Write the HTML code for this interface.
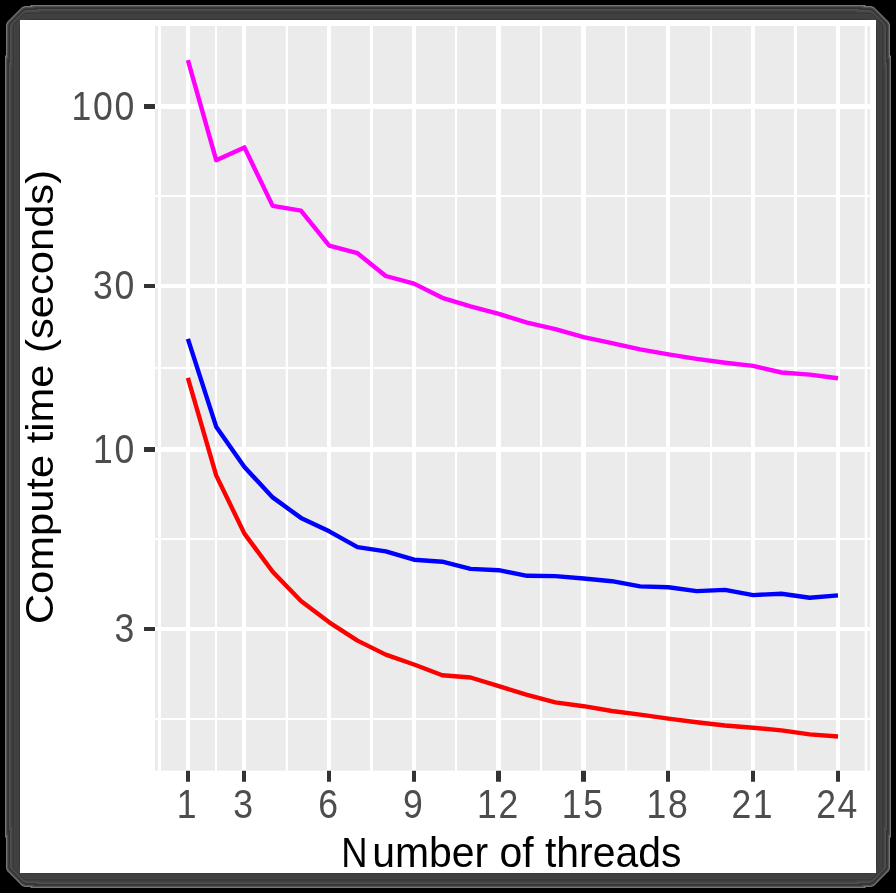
<!DOCTYPE html>
<html><head><meta charset="utf-8"><title>Compute time vs threads</title>
<style>html,body{margin:0;padding:0;background:#000;}svg{display:block;will-change:transform;}text{font-family:"Liberation Sans",sans-serif;}</style></head><body>
<svg width="896" height="893" viewBox="0 0 896 893">
<rect width="896" height="893" fill="#000"/>
<path d="M5.00,56.00L6.00,55.00L6.00,24.50L7.30,21.80L21.80,7.30L24.50,6.00L30.00,6.00L31.00,5.00L865.00,5.00L866.00,6.00L871.50,6.00L874.20,7.30L888.70,21.80L890.00,24.50L890.00,55.00L891.00,56.00L891.00,837.00L890.00,838.00L890.00,868.50L888.70,871.20L874.20,885.70L871.50,887.00L866.00,887.00L865.00,888.00L31.00,888.00L30.00,887.00L24.50,887.00L21.80,885.70L7.30,871.20L6.00,868.50L6.00,838.00L5.00,837.00Z" fill="#777777"/>
<path d="M6.00,57.80L7.00,56.80L7.00,24.91L8.30,22.21L22.21,8.30L24.91,7.00L31.60,7.00L32.60,6.00L863.40,6.00L864.40,7.00L871.09,7.00L873.79,8.30L887.70,22.21L889.00,24.91L889.00,56.80L890.00,57.80L890.00,835.20L889.00,836.20L889.00,868.09L887.70,870.79L873.79,884.70L871.09,886.00L864.40,886.00L863.40,887.00L32.60,887.00L31.60,886.00L24.91,886.00L22.21,884.70L8.30,870.79L7.00,868.09L7.00,836.20L6.00,835.20Z" fill="#505050"/>
<path d="M7.00,59.60L8.00,58.60L8.00,25.33L9.30,22.63L22.63,9.30L25.33,8.00L33.20,8.00L34.20,7.00L861.80,7.00L862.80,8.00L870.67,8.00L873.37,9.30L886.70,22.63L888.00,25.33L888.00,58.60L889.00,59.60L889.00,833.40L888.00,834.40L888.00,867.67L886.70,870.37L873.37,883.70L870.67,885.00L862.80,885.00L861.80,886.00L34.20,886.00L33.20,885.00L25.33,885.00L22.63,883.70L9.30,870.37L8.00,867.67L8.00,834.40L7.00,833.40Z" fill="#3b3b3b"/>
<path d="M8.00,61.40L9.00,60.40L9.00,25.74L10.30,23.04L23.04,10.30L25.74,9.00L34.80,9.00L35.80,8.00L860.20,8.00L861.20,9.00L870.26,9.00L872.96,10.30L885.70,23.04L887.00,25.74L887.00,60.40L888.00,61.40L888.00,831.60L887.00,832.60L887.00,867.26L885.70,869.96L872.96,882.70L870.26,884.00L861.20,884.00L860.20,885.00L35.80,885.00L34.80,884.00L25.74,884.00L23.04,882.70L10.30,869.96L9.00,867.26L9.00,832.60L8.00,831.60Z" fill="#333333"/>
<path d="M9.00,63.20L10.00,62.20L10.00,26.16L11.30,23.46L23.46,11.30L26.16,10.00L36.40,10.00L37.40,9.00L858.60,9.00L859.60,10.00L869.84,10.00L872.54,11.30L884.70,23.46L886.00,26.16L886.00,62.20L887.00,63.20L887.00,829.80L886.00,830.80L886.00,866.84L884.70,869.54L872.54,881.70L869.84,883.00L859.60,883.00L858.60,884.00L37.40,884.00L36.40,883.00L26.16,883.00L23.46,881.70L11.30,869.54L10.00,866.84L10.00,830.80L9.00,829.80Z" fill="#505050"/>
<path d="M10.00,65.00L11.00,64.00L11.00,26.57L12.30,23.87L23.87,12.30L26.57,11.00L38.00,11.00L39.00,10.00L857.00,10.00L858.00,11.00L869.43,11.00L872.13,12.30L883.70,23.87L885.00,26.57L885.00,64.00L886.00,65.00L886.00,828.00L885.00,829.00L885.00,866.43L883.70,869.13L872.13,880.70L869.43,882.00L858.00,882.00L857.00,883.00L39.00,883.00L38.00,882.00L26.57,882.00L23.87,880.70L12.30,869.13L11.00,866.43L11.00,829.00L10.00,828.00Z" fill="#484848"/>
<path d="M11.00,66.80L12.00,65.80L12.00,26.98L13.30,24.28L24.28,13.30L26.98,12.00L39.60,12.00L40.60,11.00L855.40,11.00L856.40,12.00L869.02,12.00L871.72,13.30L882.70,24.28L884.00,26.98L884.00,65.80L885.00,66.80L885.00,826.20L884.00,827.20L884.00,866.02L882.70,868.72L871.72,879.70L869.02,881.00L856.40,881.00L855.40,882.00L40.60,882.00L39.60,881.00L26.98,881.00L24.28,879.70L13.30,868.72L12.00,866.02L12.00,827.20L11.00,826.20Z" fill="#404040"/>
<path d="M12.00,68.60L13.00,67.60L13.00,27.40L14.30,24.70L24.70,14.30L27.40,13.00L41.20,13.00L42.20,12.00L853.80,12.00L854.80,13.00L868.60,13.00L871.30,14.30L881.70,24.70L883.00,27.40L883.00,67.60L884.00,68.60L884.00,824.40L883.00,825.40L883.00,865.60L881.70,868.30L871.30,878.70L868.60,880.00L854.80,880.00L853.80,881.00L42.20,881.00L41.20,880.00L27.40,880.00L24.70,878.70L14.30,868.30L13.00,865.60L13.00,825.40L12.00,824.40Z" fill="#3c3c3c"/>
<path d="M13.00,24.31L24.31,13.00L871.69,13.00L883.00,24.31L883.00,868.69L871.69,880.00L24.31,880.00L13.00,868.69Z" fill="#383838"/>
<path d="M14.00,24.73L24.73,14.00L871.27,14.00L882.00,24.73L882.00,868.27L871.27,879.00L24.73,879.00L14.00,868.27Z" fill="#424242"/>
<path d="M15.00,25.14L25.14,15.00L870.86,15.00L881.00,25.14L881.00,867.86L870.86,878.00L25.14,878.00L15.00,867.86Z" fill="#404040"/>
<path d="M16.00,25.55L25.55,16.00L870.45,16.00L880.00,25.55L880.00,867.45L870.45,877.00L25.55,877.00L16.00,867.45Z" fill="#404040"/>
<path d="M17.00,25.97L25.97,17.00L870.03,17.00L879.00,25.97L879.00,867.03L870.03,876.00L25.97,876.00L17.00,867.03Z" fill="#404040"/>
<path d="M18.00,26.38L26.38,18.00L869.62,18.00L878.00,26.38L878.00,866.62L869.62,875.00L26.38,875.00L18.00,866.62Z" fill="#404040"/>
<path d="M19.00,26.80L26.80,19.00L869.20,19.00L877.00,26.80L877.00,866.20L869.20,874.00L26.80,874.00L19.00,866.20Z" fill="#363636"/>
<rect x="20" y="20" width="856" height="853" fill="#fff"/>
<rect x="155.0" y="26.0" width="715.20" height="744.70" fill="#ebebeb"/>
<path d="M155.0,195H870.2V197H155.0ZM155.0,367H870.2V369H155.0ZM155.0,538H870.2V540H155.0ZM155.0,718H870.2V720H155.0ZM155.0,104H870.2V109H155.0ZM155.0,284H870.2V288H155.0ZM155.0,447H870.2V452H155.0ZM155.0,627H870.2V631H155.0ZM158,26.0H161V770.7H158ZM215,26.0H217V770.7H215ZM285.7,26.0H288V770.7H285.7ZM370,26.0H373V770.7H370ZM455,26.0H457.1V770.7H455ZM540,26.0H542.1V770.7H540ZM625,26.0H627.1V770.7H625ZM710,26.0H712.1V770.7H710ZM794,26.0H797V770.7H794ZM864.8,26.0H867.2V770.7H864.8ZM186,26.0H190V770.7H186ZM242,26.0H246V770.7H242ZM327,26.0H331V770.7H327ZM412,26.0H416V770.7H412ZM496,26.0H501V770.7H496ZM581,26.0H586V770.7H581ZM666,26.0H670V770.7H666ZM751,26.0H755V770.7H751ZM836,26.0H840V770.7H836Z" fill="#fff"/>
<polyline points="187.90,60.20 216.17,160.20 244.43,147.40 272.69,205.90 300.96,210.70 329.23,245.60 357.49,253.20 385.75,276.00 414.02,283.60 442.28,297.80 470.55,306.30 498.82,313.80 527.08,322.70 555.35,329.10 583.61,337.20 611.88,343.20 640.14,349.30 668.40,354.30 696.67,358.90 724.93,362.70 753.20,365.90 781.47,372.50 809.73,374.60 838.00,378.30" fill="none" stroke="#ff00ff" stroke-width="4.4" stroke-linejoin="round" stroke-linecap="butt"/>
<polyline points="187.90,338.80 216.17,426.70 244.43,467.00 272.69,497.40 300.96,517.90 329.23,531.30 357.49,547.10 385.75,551.40 414.02,559.70 442.28,561.70 470.55,568.90 498.82,570.20 527.08,575.80 555.35,576.10 583.61,578.50 611.88,581.20 640.14,586.40 668.40,587.30 696.67,591.10 724.93,589.90 753.20,595.10 781.47,593.70 809.73,597.70 838.00,595.40" fill="none" stroke="#0000ff" stroke-width="4.4" stroke-linejoin="round" stroke-linecap="butt"/>
<polyline points="187.90,377.80 216.17,475.40 244.43,533.60 272.69,571.80 300.96,601.00 329.23,622.30 357.49,640.60 385.75,654.60 414.02,664.50 442.28,675.30 470.55,677.50 498.82,686.10 527.08,694.90 555.35,702.40 583.61,706.20 611.88,711.00 640.14,714.60 668.40,718.60 696.67,722.30 724.93,725.50 753.20,727.70 781.47,730.40 809.73,734.40 838.00,736.50" fill="none" stroke="#ff0000" stroke-width="4.4" stroke-linejoin="round" stroke-linecap="butt"/>
<path d="M144,104.1H155.0V108.9H144ZM144,284.1H155.0V287.9H144ZM144,447.1H155.0V451.9H144ZM144,627.1H155.0V630.9H144ZM186,770.7H190V781.8H186ZM242,770.7H246V781.8H242ZM327,770.7H331V781.8H327ZM412,770.7H416V781.8H412ZM496,770.7H501V781.8H496ZM581,770.7H586V781.8H581ZM666,770.7H670V781.8H666ZM751,770.7H755V781.8H751ZM836,770.7H840V781.8H836Z" fill="#333"/>
<text transform="translate(135.80,119.55) scale(0.88,1)" font-size="40.4" letter-spacing="1.85" fill="#4d4d4d" text-anchor="end">100</text>
<text transform="translate(135.80,298.92) scale(0.88,1)" font-size="40.4" letter-spacing="1.85" fill="#4d4d4d" text-anchor="end">30</text>
<text transform="translate(135.80,462.60) scale(0.88,1)" font-size="40.4" letter-spacing="1.85" fill="#4d4d4d" text-anchor="end">10</text>
<text transform="translate(135.80,641.97) scale(0.88,1)" font-size="40.4" letter-spacing="1.85" fill="#4d4d4d" text-anchor="end">3</text>
<text transform="translate(187.50,817.90) scale(0.88,1)" font-size="40.4" letter-spacing="1.85" fill="#4d4d4d" text-anchor="middle">1</text>
<text transform="translate(244.03,817.90) scale(0.88,1)" font-size="40.4" letter-spacing="1.85" fill="#4d4d4d" text-anchor="middle">3</text>
<text transform="translate(328.83,817.90) scale(0.88,1)" font-size="40.4" letter-spacing="1.85" fill="#4d4d4d" text-anchor="middle">6</text>
<text transform="translate(413.62,817.90) scale(0.88,1)" font-size="40.4" letter-spacing="1.85" fill="#4d4d4d" text-anchor="middle">9</text>
<text transform="translate(498.42,817.90) scale(0.88,1)" font-size="40.4" letter-spacing="1.85" fill="#4d4d4d" text-anchor="middle">12</text>
<text transform="translate(583.21,817.90) scale(0.88,1)" font-size="40.4" letter-spacing="1.85" fill="#4d4d4d" text-anchor="middle">15</text>
<text transform="translate(668.00,817.90) scale(0.88,1)" font-size="40.4" letter-spacing="1.85" fill="#4d4d4d" text-anchor="middle">18</text>
<text transform="translate(752.80,817.90) scale(0.88,1)" font-size="40.4" letter-spacing="1.85" fill="#4d4d4d" text-anchor="middle">21</text>
<text transform="translate(837.60,817.90) scale(0.88,1)" font-size="40.4" letter-spacing="1.85" fill="#4d4d4d" text-anchor="middle">24</text>
<text transform="translate(341.2,866.8) scale(0.855,1)" font-size="42.6" fill="#000" text-anchor="start">N</text>
<text transform="translate(681.4,866.8) scale(0.9606,1)" font-size="42.6" letter-spacing="0.0" fill="#000" text-anchor="end">umber of threads</text>
<text transform="translate(52.8,397.0) rotate(-90) scale(1.086,1)" font-size="38.4" letter-spacing="0.0" fill="#000" text-anchor="middle">Compute time (seconds)</text>
</svg></body></html>
